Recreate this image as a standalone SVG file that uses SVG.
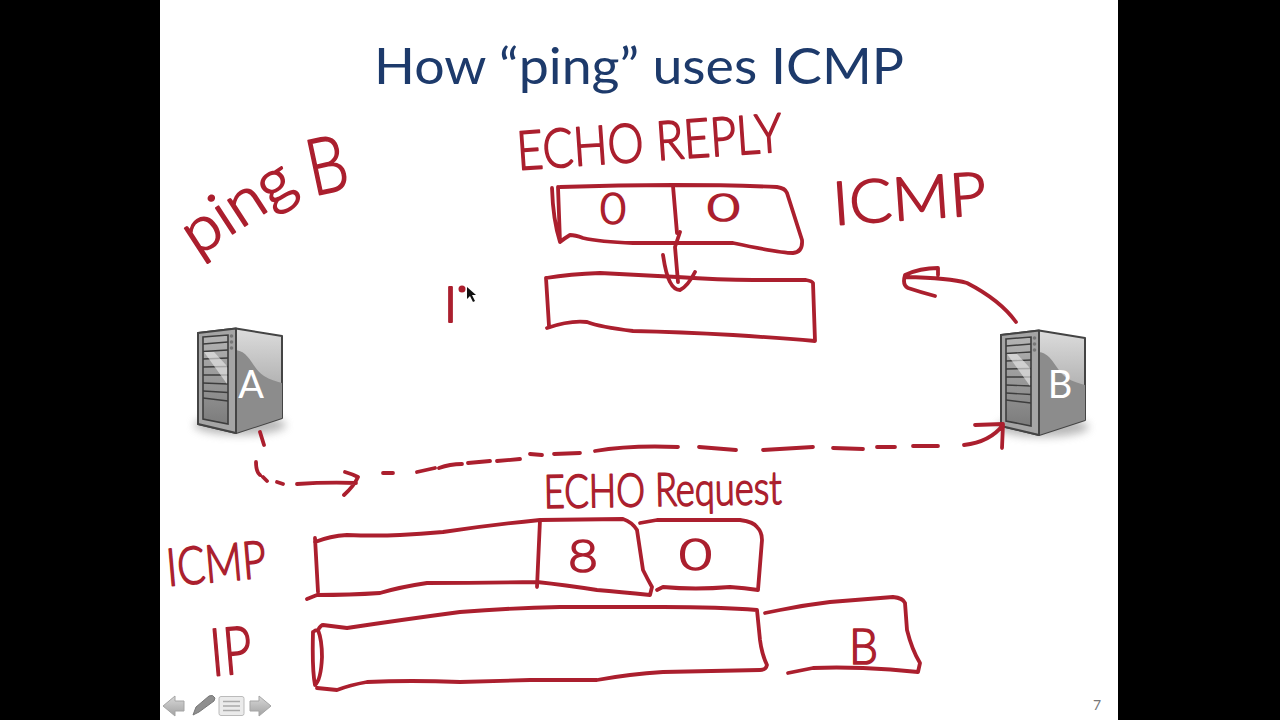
<svg xmlns="http://www.w3.org/2000/svg" xmlns:xlink="http://www.w3.org/1999/xlink" width="1280" height="720" viewBox="0 0 1280 720">
<style>
.ink{fill:none;stroke:#ab1f2e;stroke-width:3.8;stroke-linecap:round;stroke-linejoin:round}
.hand{font-family:"Lato","Liberation Sans",Arial,sans-serif;font-weight:300;fill:#ab1f2e;stroke:#ab1f2e;stroke-width:1.7;stroke-linejoin:round}
.slot{stroke:#3d3d3d;stroke-width:1.4;fill:none}
.lbl{font-family:"Lato","Liberation Sans",sans-serif;font-size:38px;fill:#fff;text-anchor:middle}
</style>
<defs>
<linearGradient id="gr" x1="0" y1="0" x2="0" y2="1"><stop offset="0" stop-color="#dcdcdc"/><stop offset="1" stop-color="#8f8f8f"/></linearGradient>
<linearGradient id="gf" x1="0" y1="0" x2="0" y2="1"><stop offset="0" stop-color="#b4b4b4"/><stop offset="1" stop-color="#7c7c7c"/></linearGradient>
<linearGradient id="gn" x1="0" y1="0" x2="0" y2="1"><stop offset="0" stop-color="#d8d8d8"/><stop offset="1" stop-color="#a2a2a2"/></linearGradient>
<filter id="bl" x="-30%" y="-100%" width="160%" height="300%"><feGaussianBlur stdDeviation="4"/></filter>
<g id="srv">
<ellipse cx="240" cy="425" rx="46" ry="10" fill="#8a8a8a" opacity=".6" filter="url(#bl)"/>
<path d="M198 333L236 328.500L282 336V418L236 433L198 424Z" fill="url(#gr)" stroke="#444" stroke-width="2" stroke-linejoin="round"/>
<path d="M236 350C250 352 252 368 264 376C270 380 276 381 282 383V418L236 433Z" fill="#8c8c8c"/>
<path d="M198 333L236 328.500V433L198 424Z" fill="#a5a5a5" stroke="#444" stroke-width="2" stroke-linejoin="round"/>
<path d="M203 337L228 335V424L203 419Z" fill="url(#gf)" stroke="#3d3d3d" stroke-width="1.6"/>
<path class="slot" d="M203 344L228 342M203 351.500L228 350M203 359L228 358M203 367L228 366.500M203 375L228 375M203 383L228 384M203 391L228 392.500M203 398L228 401"/>
<path d="M204 352L227 384V366L214 352Z" fill="#eee" opacity=".6"/>
<circle cx="231.500" cy="336" r="1.8" fill="#777"/><circle cx="231.500" cy="342" r="1.8" fill="#777"/><circle cx="231.500" cy="348" r="1.8" fill="#777"/>
</g>
</defs>
<rect width="1280" height="720" fill="#000"/>
<rect x="160" y="0" width="958" height="720" fill="#fff"/>
<text id="title" x="374" y="84" font-family="Lato,'Liberation Sans',sans-serif" font-size="50" fill="#1d3a6b" textLength="530" lengthAdjust="spacingAndGlyphs">How “ping” uses ICMP</text>
<text x="1093" y="710" font-family="Lato,'Liberation Sans',sans-serif" font-size="14" fill="#777">7</text>

<g id="server-a"><use xlink:href="#srv" href="#srv"/><text class="lbl" x="251" y="398">A</text></g>
<g id="server-b"><use xlink:href="#srv" href="#srv" transform="translate(803,2)"/><text class="lbl" x="1060" y="398">B</text></g>

<g id="connectors">
<path class="ink" d="M260 432L264 445M256 462Q256 472 260 475M263 477L267 481M277 482L283 484M297 484Q327 482 356 483M345 472Q352 474 358 477Q354 486 344 495M383 473L393 473M417 472L435 468M439 468Q450 464 462 464M468 463L490 461M497 461L520 459M530 454L542 455M554 454L580 453M595 451Q630 445 678 447M699 447L736 450M763 450L813 447M833 448L863 449M877 447L895 447M913 446L938 446M964 445Q990 442 1003 425M975 425L1003 424L1002 448"/>
<path class="ink" d="M1016 322Q1000 300 967 283Q950 278 905 277M938 275V268Q920 268 905 275Q902 285 908 288Q920 292 935 296"/>
<path class="ink" d="M680 232L675 247L678 282M663 255Q666 275 670 282Q674 290 680 290Q688 286 695 272"/>
</g>

<g id="reply-icmp">
<path class="ink" d="M560 187Q620 185 673 185Q730 185 777 187Q785 188 787 193L802 240Q803 252 793 253Q780 253 733 243Q690 243 633 243Q600 242 583 238Q575 235 570 235Q565 238 560 242L558 187M552 188Q553 220 560 242M673 186L677 233"/>
<text class="hand" font-size="44" x="600" y="224" textLength="26" lengthAdjust="spacingAndGlyphs">0</text>
<text class="hand" font-size="38" x="707" y="221" textLength="33" lengthAdjust="spacingAndGlyphs">0</text>
</g>
<g id="reply-ip">
<path class="ink" d="M546 278Q570 274 600 273Q640 275 677 277Q720 280 753 280L806 280Q812 281 813 283L815 341Q780 338 733 335Q680 332 633 331Q600 327 587 322Q570 320 547 328M546 278L549 326"/>
</g>
<g id="request-icmp">
<path class="ink" d="M315 538L318 592M315 542Q330 536 347 535Q375 536 400 535Q420 534 443 532Q490 525 540 520L623 519Q632 522 637 530L643 570Q648 580 652 587L650 595Q620 592 597 590Q565 585 537 582Q480 583 427 583Q400 587 380 593Q350 595 317 595L307 599M540 520L537 587"/>
<text class="hand" font-size="46" x="568" y="572" textLength="30" lengthAdjust="spacingAndGlyphs">8</text>
</g>
<g id="request-icmp-code">
<path class="ink" d="M640 523L657 520L740 520Q754 522 757 527Q762 532 762 540L758 590Q745 588 730 587Q695 590 663 587L657 590"/>
<text class="hand" font-size="44" x="679" y="570" textLength="33" lengthAdjust="spacingAndGlyphs">0</text>
</g>
<g id="request-ip">
<path class="ink" d="M313 632Q312 670 315 685Q321 680 322 657Q322 640 318 630Q315 630 313 632M318 630Q321 625 323 625L347 628Q400 620 460 612Q510 608 560 607L663 607Q720 607 757 610L760 640Q762 655 767 665Q766 670 760 670L663 672Q630 674 597 680Q560 680 530 680L460 682Q410 680 367 682Q350 685 337 690L317 688"/>
</g>
<g id="request-dest">
<path class="ink" d="M765 613L780 610Q805 605 830 602L893 597Q903 598 905 603L907 630Q912 650 920 663L918 672Q890 669 863 668Q835 667 813 668L788 673"/>
<text class="hand" font-size="50" x="849" y="664" textLength="29" lengthAdjust="spacingAndGlyphs">B</text>
</g>

<g id="labels">
<text class="hand" font-size="62" transform="translate(197,257) rotate(-33)" textLength="122" lengthAdjust="spacingAndGlyphs">ping</text>
<text class="hand" font-size="78" transform="translate(313,196) rotate(-12)" textLength="40" lengthAdjust="spacingAndGlyphs">B</text>
<text class="hand" font-size="54" transform="translate(518,170) rotate(-4)" textLength="266" lengthAdjust="spacingAndGlyphs">ECHO REPLY</text>
<text class="hand" font-size="60" transform="translate(834,225) rotate(-4)" textLength="154" lengthAdjust="spacingAndGlyphs">ICMP</text>
<text class="hand" font-size="52" transform="translate(168,586) rotate(-5)" textLength="100" lengthAdjust="spacingAndGlyphs">ICMP</text>
<text class="hand" font-size="66" transform="translate(212,676) rotate(-5)" textLength="42" lengthAdjust="spacingAndGlyphs">IP</text>
<text class="hand" font-size="46" transform="translate(544,508) rotate(-1)" textLength="238" lengthAdjust="spacingAndGlyphs">ECHO Request</text>
<text class="hand" font-size="50" x="444" y="322" style="stroke-width:2.2">I</text>
<circle cx="462" cy="289" r="3.5" fill="#ab1f2e"/>
</g>
<path id="cursor" d="M467 287V299L470 296L473 302L475 301L472 295L476 295Z" fill="#111"/>

<g id="nav">
<path d="M184 701H175V696L163 706L175 716V711H184Z" fill="url(#gn)" stroke="#a5a5a5"/>
<path d="M193 715L196 707L209 696Q213 694 215 698L214 701L199 712Z" fill="#8f8f8f" stroke="#777"/>
<rect x="219" y="696.500" width="25" height="19" rx="2" fill="#ebebeb" stroke="#bbb"/>
<path d="M223 701.500H240M223 706H240M223 710.500H240" stroke="#aaa" stroke-width="1.5"/>
<path d="M250 701H259V696L271 706L259 716V711H250Z" fill="url(#gn)" stroke="#a5a5a5"/>
</g>
</svg>
